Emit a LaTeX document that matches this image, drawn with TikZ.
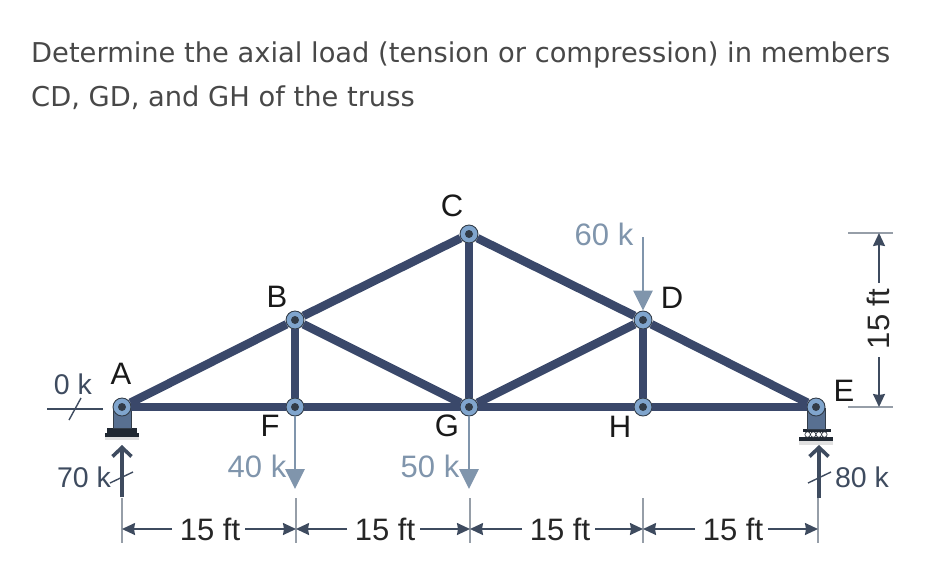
\documentclass[tikz,border=0pt]{standalone}
\usepackage{fontspec}
\setmainfont{Liberation Sans}
\newfontfamily\headfont{DejaVu Sans}
\usetikzlibrary{arrows.meta, positioning, shapes, calc}
\definecolor{memberblue}{RGB}{58, 72, 106}
\definecolor{jointblue}{RGB}{128, 165, 205}
\definecolor{pindark}{RGB}{50, 60, 72}
\definecolor{loadgray}{RGB}{128, 149, 172}
\definecolor{dimdark}{RGB}{62, 75, 95}
\definecolor{extgray}{RGB}{150, 158, 168}
\definecolor{supportblue}{RGB}{88, 112, 145}
\definecolor{basedark}{RGB}{32, 40, 50}
\definecolor{headgray}{RGB}{72, 72, 72}

\begin{document}
\begin{tikzpicture}[
    x=1pt, y=-1pt,
    joint/.style={circle, draw=pindark, fill=jointblue, line width=0.9pt, minimum size=18pt, inner sep=0pt,
        path picture={\fill[pindark] (path picture bounding box.center) circle (4pt);}},
    member/.style={memberblue, line width=8.5pt},
    letter/.style={font=\fontsize{31}{31}\selectfont, text=black!90, inner sep=0pt},
    dimtext/.style={font=\fontsize{31}{31}\selectfont, text=black!85, inner sep=0pt},
    loadtext/.style={font=\fontsize{31}{31}\selectfont, text=loadgray, inner sep=0pt},
    reacttext/.style={font=\fontsize{28.5}{28.5}\selectfont, text=dimdark, inner sep=0pt},
    load/.style={loadgray, line width=2.8pt, -{Stealth[length=20pt, width=19pt, inset=0pt]}},
    react/.style={dimdark, line width=3.6pt, -{Straight Barb[length=9pt, width=19pt]}},
    dimarrow/.style={dimdark, line width=1.6pt, -{Stealth[length=13pt, width=12pt, inset=1pt]}},
    extline/.style={extgray, line width=1.3pt},
    slash/.style={dimdark, line width=1.4pt},
    supportbody/.style={rectangle, fill=supportblue, draw=pindark, line width=0.4pt, minimum width=18pt, minimum height=21pt, inner sep=0pt},
    basebar/.style={rectangle, fill=basedark, inner sep=0pt},
    roller/.style={circle, draw=basedark, fill=white, line width=0.6pt, minimum size=5.5pt, inner sep=0pt}
]

\useasboundingbox (0,0) rectangle (944,574);

\node[font=\headfont\fontsize{27.3}{44}\selectfont, text=headgray, align=left, anchor=west, inner sep=0pt] (question) at (31,76)
    {Determine the axial load (tension or compression) in members\\CD, GD, and GH of the truss};

\node[basebar, minimum width=34pt, minimum height=3pt, fill=black!12] (shadowA) at (122,438.5) {};
\node[basebar, minimum width=34pt, minimum height=3.5pt] (footA) at (122,435) {};
\node[basebar, minimum width=30pt, minimum height=6pt] (baseA) at (122,430.5) {};
\node[supportbody] (bodyA) at (122,417.5) {};

\node[basebar, minimum width=34pt, minimum height=4pt, fill=black!12] (shadowE) at (816,443) {};
\node[basebar, minimum width=34pt, minimum height=4pt] (footE) at (816,439) {};
\node[roller] (rollerA) at (807.6,434.5) {};
\node[roller] (rollerB) at (813.2,434.5) {};
\node[roller] (rollerC) at (818.8,434.5) {};
\node[roller] (rollerD) at (824.4,434.5) {};
\node[basebar, minimum width=28pt, minimum height=3.5pt] (topE) at (816.5,430.5) {};
\node[supportbody] (bodyE) at (816.5,418.5) {};

\node[joint] (A) at (122,407) {};
\node[joint] (B) at (295,320) {};
\node[joint] (C) at (469,234) {};
\node[joint] (D) at (643,320) {};
\node[joint] (E) at (816,407) {};
\node[joint] (F) at (295,407) {};
\node[joint] (G) at (469,407) {};
\node[joint] (H) at (643,407) {};

\draw[member] (A) -- (B);
\draw[member] (B) -- (C);
\draw[member] (C) -- (D);
\draw[member] (D) -- (E);
\draw[member] (A) -- (F);
\draw[member] (F) -- (G);
\draw[member] (G) -- (H);
\draw[member] (H) -- (E);
\draw[member] (B) -- (F);
\draw[member] (B) -- (G);
\draw[member] (C) -- (G);
\draw[member] (D) -- (G);
\draw[member] (D) -- (H);

\node[letter] (labelA) at (121,374) {A};
\node[letter] (labelB) at (277,297) {B};
\node[letter] (labelC) at (452,206) {C};
\node[letter] (labelD) at (672,298) {D};
\node[letter] (labelE) at (844,391) {E};
\node[letter] (labelF) at (270,426) {F};
\node[letter] (labelG) at (447,426) {G};
\node[letter] (labelH) at (620,427) {H};

\coordinate (tipF) at (295,489);
\coordinate (tipG) at (469,489);
\coordinate (startD) at (643,237);
\draw[load] (F) -- (tipF);
\draw[load] (G) -- (tipG);
\draw[load] (startD) -- (D);
\node[loadtext] (loadF) at (257,466) {40 k};
\node[loadtext] (loadG) at (430,466) {50 k};
\node[loadtext] (loadD) at (604,234) {60 k};

\coordinate (tailA) at (122,497);
\coordinate (tailE) at (819,498);
\coordinate (headA) at (122,445);
\coordinate (headE) at (819,445);
\draw[react] (tailA) -- (headA);
\draw[react] (tailE) -- (headE);
\coordinate (slashAa) at (110,483);
\coordinate (slashAb) at (133,472);
\coordinate (slashEa) at (808,483);
\coordinate (slashEb) at (831,472);
\draw[slash] (slashAa) -- (slashAb);
\draw[slash] (slashEa) -- (slashEb);
\node[reacttext] (reactA) at (84,477) {70 k};
\node[reacttext] (reactE) at (862,477) {80 k};

\coordinate (zeroL) at (47,409);
\coordinate (zeroR) at (103,409);
\coordinate (zeroa) at (69,420);
\coordinate (zerob) at (81,398);
\draw[dimdark, line width=2pt] (zeroL) -- (zeroR);
\draw[slash] (zeroa) -- (zerob);
\node[reacttext] (reactH) at (73,384) {0 k};

\coordinate (dimA) at (122,529);
\coordinate (dimF) at (296,529);
\coordinate (dimG) at (470,529);
\coordinate (dimH) at (643,529);
\coordinate (dimE) at (818,529);
\node[dimtext] (spanA) at (210,529) {15 ft};
\node[dimtext] (spanB) at (385,529) {15 ft};
\node[dimtext] (spanC) at (560,529) {15 ft};
\node[dimtext] (spanD) at (733,529) {15 ft};

\draw[extline] (122,498) -- (dimA) -- (122,543);
\draw[extline] (296,498) -- (dimF) -- (296,543);
\draw[extline] (470,498) -- (dimG) -- (470,543);
\draw[extline] (643,498) -- (dimH) -- (643,543);
\draw[extline] (818,498) -- (dimE) -- (818,543);

\draw[dimarrow] (spanA) ++(-38,0) -- (dimA);
\draw[dimarrow] (spanA) ++(35,0) -- (dimF);
\draw[dimarrow] (spanB) ++(-38,0) -- (dimF);
\draw[dimarrow] (spanB) ++(35,0) -- (dimG);
\draw[dimarrow] (spanC) ++(-38,0) -- (dimG);
\draw[dimarrow] (spanC) ++(35,0) -- (dimH);
\draw[dimarrow] (spanD) ++(-38,0) -- (dimH);
\draw[dimarrow] (spanD) ++(35,0) -- (dimE);

\coordinate (riseTop) at (879,233);
\coordinate (riseBot) at (879,407);
\draw[extline] (848,233) -- (riseTop) -- (893,233);
\draw[extline] (848,407) -- (riseBot) -- (893,407);
\node[dimtext, rotate=90] (rise) at (878,319) {15 ft};
\draw[dimarrow] (rise) ++(1,-36) -- (riseTop);
\draw[dimarrow] (rise) ++(1,38) -- (riseBot);

\end{tikzpicture}
\end{document}
